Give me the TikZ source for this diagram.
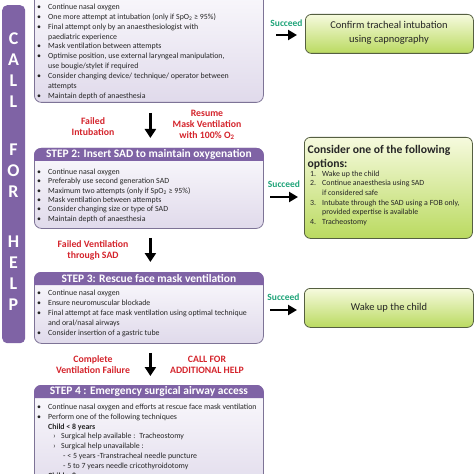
\documentclass[tikz,border=0pt]{standalone}
\usepackage{fontspec}
\setmainfont{Carlito}
\usetikzlibrary{arrows.meta,calc}
\definecolor{hdr}{RGB}{127,99,165}
\definecolor{bodytop}{RGB}{251,250,253}
\definecolor{bodybot}{RGB}{224,218,235}
\definecolor{bodyline}{RGB}{125,115,150}
\definecolor{gtop}{RGB}{246,250,222}
\definecolor{gbot}{RGB}{186,218,96}
\definecolor{gline}{RGB}{85,95,65}
\definecolor{redlbl}{RGB}{212,36,44}
\definecolor{succ}{RGB}{30,163,120}
\newcommand\bl{\makebox[11bp][l]{\textbullet}}
\newcommand\ind{\hspace*{11bp}}
\newcommand\nm[1]{\makebox[12bp][l]{#1}}
\newcommand\hdrbar[1]{\fill[hdr] ($(#1.north west)+(0,13)$) [rounded corners=7bp] -- (#1.north west) -- (#1.north east) [sharp corners] -- ($(#1.north east)+(0,13)$) -- cycle;}
\begin{document}
\begin{tikzpicture}[x=1bp,y=-1bp,
  stepbody/.style={draw=bodyline, line width=0.8bp, rounded corners=7bp, top color=bodytop, bottom color=bodybot, anchor=north west, inner sep=0pt, minimum width=229bp},
  greenbox/.style={draw=gline, line width=0.8bp, rounded corners=6bp, top color=gtop, bottom color=gbot, anchor=north west, inner sep=0pt},
  hdrtxt/.style={text=white, font=\fontsize{11.5}{13}\selectfont\bfseries, inner sep=0pt},
  bodytxt/.style={anchor=north west, align=left, inner sep=0pt, text=black!85},
  redtxt/.style={text=redlbl, align=center, font=\fontsize{9.8}{11}\selectfont\bfseries, inner sep=0pt},
  succtxt/.style={text=succ, font=\fontsize{9.5}{11}\selectfont\bfseries, inner sep=0pt},
  darr/.style={line width=2.4bp, -{Triangle[width=11bp,length=9bp]}},
  rarr/.style={line width=2.4bp, -{Triangle[width=10bp,length=9bp]}},
  gtxt/.style={align=center, inner sep=0pt, text=black!85, font=\fontsize{10.5}{14}\selectfont}
]
\useasboundingbox (0,0) rectangle (474,474);
\clip (0,0) rectangle (474,474);

% sidebar
\node[fill=hdr, rounded corners=5bp, minimum width=23bp, minimum height=338bp, inner sep=0pt, anchor=north west] (side) at (2,5) {};
\node[text=white, align=center, inner sep=0pt, font=\fontsize{18}{21}\selectfont\bfseries] (sidetxt) at (13.5,171.5)
  {C\\A\\L\\L\\[28bp]F\\O\\R\\[29bp]H\\E\\L\\P};

% step 1
\node[stepbody, minimum height=118bp] (s1) at (34,-16) {};
\hdrbar{s1}
\node[bodytxt, font=\fontsize{7.9}{9.85}\selectfont] (t1) at (37,2.5) {\rule{0pt}{7bp}\bl Continue nasal oxygen\\
\bl One more attempt at intubation (only if SpO\textsubscript{2} ≥ 95\%)\\
\bl Final attempt only by an anaesthesiologist with\\
\ind paediatric experience\\
\bl Mask ventilation between attempts\\
\bl Optimise position, use external laryngeal manipulation,\\
\ind use bougie/stylet if required\\
\bl Consider changing device/ technique/ operator between\\
\ind attempts\\
\bl Maintain depth of anaesthesia};

% step 2
\node[stepbody, minimum height=80bp] (s2) at (34,148) {};
\hdrbar{s2}
\node[hdrtxt] (h2) at ($(s2.north)+(0,6.8)$) {STEP 2: Insert SAD to maintain oxygenation};
\node[bodytxt, font=\fontsize{7.9}{9.5}\selectfont] (t2) at (37,166.9) {\rule{0pt}{7bp}\bl Continue nasal oxygen\\
\bl Preferably use second generation SAD\\
\bl Maximum two attempts (only if SpO\textsubscript{2} ≥ 95\%)\\
\bl Mask ventilation between attempts\\
\bl Consider changing size or type of SAD\\
\bl Maintain depth of anaesthesia};

% step 3
\node[stepbody, minimum height=71bp] (s3) at (34,272) {};
\hdrbar{s3}
\node[hdrtxt] (h3) at ($(s3.north)+(0,6.8)$) {STEP 3: Rescue face mask ventilation};
\node[bodytxt, font=\fontsize{7.9}{10}\selectfont] (t3) at (37,288.5) {\rule{0pt}{7bp}\bl Continue nasal oxygen\\
\bl Ensure neuromuscular blockade\\
\bl Final attempt at face mask ventilation using optimal technique\\
\ind and oral/nasal airways\\
\bl Consider insertion of a gastric tube};

% step 4
\node[stepbody, minimum height=110bp] (s4) at (34,385) {};
\hdrbar{s4}
\node[hdrtxt] (h4) at ($(s4.north)+(0,6.8)$) {STEP 4 : Emergency surgical airway access};
\node[bodytxt, font=\fontsize{7.9}{9.8}\selectfont] (t4) at (37,402.5) {\rule{0pt}{7bp}\bl Continue nasal oxygen and efforts at rescue face mask ventilation\\
\bl Perform one of the following techniques\\
\ind\textbf{Child < 8 years}\\
\hspace*{16bp}\makebox[8bp][l]{›}Surgical help available :\enspace Tracheostomy\\
\hspace*{16bp}\makebox[8bp][l]{›}Surgical help unavailable :\\
\hspace*{26bp}- < 5 years -Transtracheal needle puncture\\
\hspace*{26bp}- 5 to 7 years needle cricothyroidotomy\\
\ind\textbf{Child > 8 years}};

% green boxes
\node[greenbox, minimum width=168bp, minimum height=39bp] (c1) at (305,14) {};
\node[gtxt] (c1t) at (389,33) {Confirm tracheal intubation\\using capnography};

\node[greenbox, minimum width=168bp, minimum height=101bp] (opt) at (304,137) {};
\node[bodytxt, font=\fontsize{11.7}{14}\selectfont\bfseries] (optt) at (307.5,144.2) {\rule{0pt}{9bp}Consider one of the following\\options:};
\node[bodytxt, font=\fontsize{7.9}{9.6}\selectfont] (optl) at (310,169.2) {\rule{0pt}{7bp}\nm{1.}Wake up the child\\
\nm{2.}Continue anaesthesia using SAD\\
\nm{}if considered safe\\
\nm{3.}Intubate through the SAD using a FOB only,\\
\nm{}provided expertise is available\\
\nm{4.}Tracheostomy};

\node[greenbox, minimum width=169bp, minimum height=39bp] (wk) at (304,288) {};
\node[gtxt] (wkt) at (389,307.5) {Wake up the child};

% red labels
\node[redtxt] (r1) at (93,126.5) {Failed\\Intubation};
\node[redtxt] (r2) at (207,125) {Resume\\Mask Ventilation\\with 100\% O\textsubscript{2}};
\node[redtxt] (r3) at (93,250.5) {Failed Ventilation\\through SAD};
\node[redtxt] (r4) at (93,365) {Complete\\Ventilation Failure};
\node[redtxt] (r5) at (207,364.5) {CALL FOR\\ADDITIONAL HELP};

% down arrows
\draw[darr] ($(s1.south)+(1.5,10)$) -- ($(s2.north)+(1.5,-10)$);
\draw[darr] ($(s2.south)+(1.5,9)$) -- ($(s3.north)+(1.5,-10)$);
\draw[darr] ($(s3.south)+(1.5,9)$) -- ($(s4.north)+(1.5,-9)$);

% succeed arrows
\coordinate (a1) at (276,35);
\coordinate (a2) at (270,197);
\coordinate (a3) at (270,310);
\draw[rarr] (a1) -- ($(a1 -| c1.west)+(-8,0)$) node[succtxt, midway, yshift=12bp] {Succeed};
\draw[rarr] (a2) -- ($(a2 -| opt.west)+(-6,0)$) node[succtxt, midway, yshift=13bp] {Succeed};
\draw[rarr] (a3) -- ($(a3 -| wk.west)+(-7,0)$) node[succtxt, midway, yshift=13bp] {Succeed};
\end{tikzpicture}
\end{document}
